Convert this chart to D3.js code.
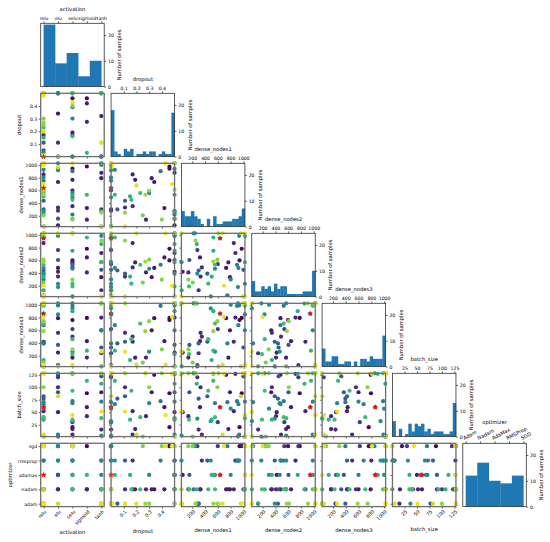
<!DOCTYPE html>
<html><head><meta charset="utf-8">
<script src="https://cdn.jsdelivr.net/npm/d3@7"></script>
<style>body{margin:0;background:#fff}svg text{font-family:"DejaVu Sans",sans-serif;fill:#000}</style>
</head><body><svg id="c" width="550" height="542"></svg>
<script>
// ---------- data ----------
const dimNames = ["activation","dropout","dense_nodes1","dense_nodes2","dense_nodes3","batch_size","optimizer"];
const activationCats = ["relu","elu","selu","sigmoid","tanh"];
const optimizerCats = ["adam","nadam","adamax","rmsprop","sgd"];
const optimizerHistLabels = ["Adam","Nadam","AdaMax","RMSProp","SGD"];
const dropoutTicks = [0.1,0.2,0.3,0.4];
const denseTicks = [200,400,600,800,1000];
const batchTicks = [25,50,75,100,125];
const countTicks = [0,10,20];
const dropoutRange = [0,0.5];
const denseRange = [30,1024];
const batchRange = [1,128];

// histogram counts (20 bins for numeric, one per category for categorical)
const activationCounts = [24,9,13,4,10];
const optimizerCounts = [12,17,10,9,12];
const dropoutCounts = [18,2,1,0,3,2,3,0,1,1,2,1,2,2,0,1,2,1,1,17];
const dense1Counts = [6,4,4,6,4,3,1,0,3,0,4,1,1,2,2,2,3,3,4,7];
const dense2Counts = [6,2,2,4,3,4,2,5,3,4,4,1,1,1,1,1,2,2,2,10];
const dense3Counts = [7,2,2,4,4,1,1,2,2,0,2,0,3,3,2,4,3,3,3,12];
const batchCounts = [6,0,3,0,1,5,2,5,4,5,2,3,1,2,2,2,1,1,2,13];

// the 60 evaluated samples
const activationSample = [
"relu","relu","relu","relu","relu","relu","relu","relu","relu","relu","relu","relu",
"relu","relu","relu","relu","relu","relu","relu","relu","relu","relu","relu","relu",
"elu","elu","elu","elu","elu","elu","elu","elu","elu",
"selu","selu","selu","selu","selu","selu","selu","selu","selu","selu","selu","selu","selu",
"sigmoid","sigmoid","sigmoid","sigmoid",
"tanh","tanh","tanh","tanh","tanh","tanh","tanh","tanh","tanh","tanh"];
const dropoutSample = [0.0,0.48,0.20,0.01,0.30,0.27,0.25,0.23,0.15,0.0,0.0,0.11,0.17,0.05,0.03,0.0,0.0,0.5,0.5,0.5,0.5,0.5,0.0,0.0,
 0.34,0.11,0.0,0.5,0.5,0.5,0.0,0.0,0.0,
 0.46,0.19,0.17,0.0,0.39,0.30,0.0,0.5,0.5,0.16,0.5,0.40,0.43,
 0.46,0.42,0.275,0.03,
 0.32,0.0,0.5,0.0,0.5,0.0,0.5,0.5,0.11,0.11];
const dense1Sample = [635,697,676,990,593,530,207,556,504,1024,34,436,850,300,922,802,750,279,243,1024,610,1024,32,1024,
 730,330,280,50,155,935,1024,915,960,
 940,765,350,600,900,556,490,220,530,450,150,140,1024,
 974,321,139,530,
 790,300,875,1000,1024,32,270,1024,250,32];
const dense2Sample = [945,200,1024,32,610,580,250,530,345,985,130,390,870,440,480,300,50,390,1024,32,1024,32,1024,32,
 480,345,760,420,605,985,230,180,1024,
 598,567,488,540,530,467,32,1024,750,233,190,295,1024,
 781,645,410,958,
 335,130,715,450,985,570,855,570,910,32];
const dense3Sample = [862,810,60,1024,743,587,93,706,134,985,32,420,420,394,680,1000,394,32,1024,1024,32,1024,1024,32,
 790,560,55,250,370,990,850,1024,32,
 760,170,500,620,985,265,945,1024,900,460,225,300,60,
 795,430,171,280,
 600,240,800,330,600,1024,1020,32,1024,265];
const batchSample = [60,127,5,128,100,128,1,40,35,128,128,82,52,77,66,57,70,37,128,1,128,1,128,128,
 125,100,120,50,90,5,128,1,82,
 20,16,5,30,72,68,32,128,127,93,35,128,44,
 88,60,42,113,
 90,15,127,122,71,3,107,38,128,51];
const optimizerSample = [
"adamax","sgd","adam","adam","adam","adam","sgd","nadam","adamax","nadam","adam","rmsprop",
"nadam","adam","rmsprop","adamax","sgd","adam","sgd","nadam","adam","sgd","nadam","adamax",
"nadam","nadam","sgd","adamax","adamax","rmsprop","sgd","rmsprop","adam",
"sgd","nadam","rmsprop","sgd","rmsprop","adamax","rmsprop","nadam","adamax","nadam","nadam","sgd","sgd",
"sgd","nadam","nadam","adamax",
"nadam","adam","rmsprop","nadam","adamax","rmsprop","nadam","nadam","adam","adam"];
const iterationSample = [35,57,56,58,48,50,47,41,38,42,37,17,6,18,27,28,25,30,32,40,51,55,52,59,
 3,7,9,5,16,26,29,28,54,
 2,5,8,10,24,27,30,25,37,40,41,48,57,
 1,4,6,39,
 4,8,6,16,27,30,38,41,49,57];
const bestSample = 0;

// ---------- layout ----------
const L0 = 40.7, PX = 70.35, CW = 63.5;
const T0 = 23.3, PY = 70.0, CH = 63.3;
const TICKFS = 4.6, LABFS = 5.2;
const yLabelCx = [0,19.5,21.5,21.5,21.5,19.5,10];
const xLabelBase = [534,533,531.5,531.5,531.5,531];

const dims = [
 {type:"cat", cats:activationCats, values:activationSample, counts:activationCounts, histLabels:activationCats},
 {type:"num", domain:dropoutRange, ticks:dropoutTicks, fmt:d3.format(".1f"), values:dropoutSample, counts:dropoutCounts},
 {type:"num", domain:denseRange, ticks:denseTicks, fmt:d3.format("d"), values:dense1Sample, counts:dense1Counts},
 {type:"num", domain:denseRange, ticks:denseTicks, fmt:d3.format("d"), values:dense2Sample, counts:dense2Counts},
 {type:"num", domain:denseRange, ticks:denseTicks, fmt:d3.format("d"), values:dense3Sample, counts:dense3Counts},
 {type:"num", domain:batchRange, ticks:batchTicks, fmt:d3.format("d"), values:batchSample, counts:batchCounts},
 {type:"cat", cats:optimizerCats, values:optimizerSample, counts:optimizerCounts, histLabels:optimizerHistLabels}
];
const N = iterationSample.length;
const color = d3.scaleSequential(d3.interpolateViridis).domain([0, N-1]);

function scaleFor(d, r){
  if(d.type==="cat") return d3.scaleLinear().domain([-0.2,4.2]).range(r);
  return d3.scaleLinear().domain(d.domain).range(r);
}
function val(d,k){ return d.type==="cat" ? d.cats.indexOf(d.values[k]) : d.values[k]; }
function tickVals(d){ return d.type==="cat" ? d3.range(d.cats.length) : d.ticks; }
function tickFmt(d){ return d.type==="cat" ? (k=>d.cats[k]) : d.fmt; }

const svg = d3.select("#c");
const order = d3.range(N).sort((a,b)=>iterationSample[a]-iterationSample[b]);

function styleAxis(g, fs){
  g.select(".domain").remove();
  g.selectAll(".tick line").attr("stroke","#000").attr("stroke-width",0.6);
  g.selectAll(".tick text").style("font-size",(fs||TICKFS)+"px").style("font-family","DejaVu Sans, sans-serif");
}

for(let i=0;i<7;i++){
  for(let j=0;j<=i;j++){
    const x0 = L0 + j*PX, y0 = T0 + i*PY;
    const g = svg.append("g").attr("transform",`translate(${x0},${y0})`);
    if(i===j){
      // ---------- histogram ----------
      const d = dims[i];
      const nb = d.counts.length;
      const x = scaleFor(d,[0,CW]);
      const lo = d.type==="cat" ? 0 : d.domain[0];
      const hi = d.type==="cat" ? d.cats.length-1 : d.domain[1];
      const edges = d3.range(nb+1).map(k=>lo + k*(hi-lo)/nb);
      const y = d3.scaleLinear().domain([0,24.5]).range([CH,0]);
      g.selectAll("rect.bar").data(d.counts).join("rect")
        .attr("x",(c,k)=>x(edges[k])).attr("width",(c,k)=>x(edges[k+1])-x(edges[k])+0.25)
        .attr("y",c=>y(c)).attr("height",c=>CH-y(c)).attr("fill","#1f77b4");
      g.append("rect").attr("width",CW).attr("height",CH).attr("fill","none")
        .attr("stroke","#333").attr("stroke-width",0.8);
      const top = g.append("g").call(d3.axisTop(x).tickValues(tickVals(d))
          .tickFormat(d.type==="cat" ? (k=>d.histLabels[k]) : d.fmt).tickSize(2).tickPadding(1.6));
      styleAxis(top, i===6 ? 5.0 : TICKFS);
      if(i===6){
        top.selectAll(".tick text").attr("y",0).attr("dy",0).style("text-anchor","start")
          .attr("transform","translate(-2,-3.2) rotate(-28)");
      }
      const right = g.append("g").attr("transform",`translate(${CW},0)`)
        .call(d3.axisRight(y).tickValues(countTicks).tickSize(2).tickPadding(1.8));
      styleAxis(right);
      g.append("text").attr("transform",`translate(${CW+17},${CH/2}) rotate(-90)`)
        .attr("text-anchor","middle").style("font-size",LABFS+"px").text("Number of samples");
      g.append("text").attr("x",CW/2).attr("y", i===6 ? -19 : -12.3)
        .attr("text-anchor","middle").style("font-size",LABFS+"px").text(dimNames[i]);
    } else {
      // ---------- scatter ----------
      const dx = dims[j], dy = dims[i];
      const x = scaleFor(dx,[0,CW]), y = scaleFor(dy,[CH,0]);
      g.append("rect").attr("width",CW).attr("height",CH).attr("fill","#fff");
      const ax = g.append("g").attr("transform",`translate(0,${CH})`)
        .call(d3.axisBottom(x).tickValues(tickVals(dx)).tickFormat(i===6 ? tickFmt(dx) : "").tickSize(2).tickPadding(1.5));
      styleAxis(ax, 4.8);
      if(i===6){
        ax.selectAll(".tick text").attr("y",0).attr("dy","0.35em").style("text-anchor","end")
          .attr("transform","translate(1.4,4.2) rotate(-45)");
      }
      const ay = g.append("g")
        .call(d3.axisLeft(y).tickValues(tickVals(dy)).tickFormat(j===0 ? tickFmt(dy) : "").tickSize(2).tickPadding(1.5));
      styleAxis(ay);
      g.selectAll("circle.pt").data(order).join("circle")
        .attr("cx",k=>x(val(dx,k))).attr("cy",k=>y(val(dy,k))).attr("r",2.1)
        .attr("fill",k=>color(iterationSample[k]));
      g.append("path").attr("d",d3.symbol().type(d3.symbolStar).size(11)())
        .attr("transform",`translate(${x(val(dx,bestSample))},${y(val(dy,bestSample))})`)
        .attr("fill","#ff0000");
      g.append("rect").attr("width",CW).attr("height",CH).attr("fill","none")
        .attr("stroke","#6e6e6e").attr("stroke-width",1.3);
      if(j===0){
        svg.append("text").attr("transform",`translate(${yLabelCx[i]+1.8},${y0+CH/2}) rotate(-90)`)
          .attr("text-anchor","middle").style("font-size",LABFS+"px").text(dimNames[i]);
      }
      if(i===6){
        svg.append("text").attr("x",x0+CW/2).attr("y",xLabelBase[j])
          .attr("text-anchor","middle").style("font-size",LABFS+"px").text(dimNames[j]);
      }
    }
  }
}
</script></body></html>
